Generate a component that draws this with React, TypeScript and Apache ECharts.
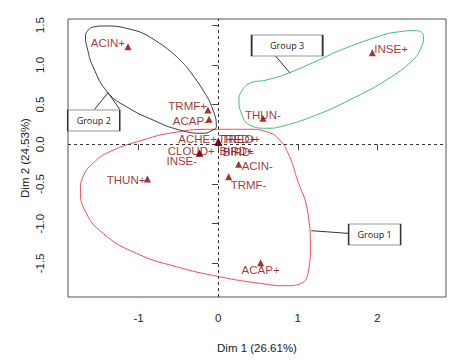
import React, { useEffect, useRef } from "react";
import * as echarts from "echarts";

// ---- data ----
const pointNames = ["ACIN+", "TRMF+", "ACAP-", "ACHE+", "TRED+", "TREO+", "CLOUD+", "INSE-", "BIRD+", "BIRD-", "ACIN-", "TRMF-", "THUN+", "ACAP+", "THUN-", "INSE+"];
const dim1 = [-1.132, -0.128, -0.115, -0.003, 0.0, 0.004, -0.232, -0.235, 0.005, 0.008, 0.257, 0.132, -0.888, 0.533, 0.562, 1.935];
const dim2 = [1.229, 0.432, 0.315, 0.033, 0.03, 0.028, -0.113, -0.11, 0.025, 0.022, -0.252, -0.408, -0.437, -1.491, 0.327, 1.154];

const xTicks = [-1, 0, 1, 2];
const yTicks = [-1.5, -1.0, -0.5, 0.0, 0.5, 1.0, 1.5];
const xTitle = "Dim 1 (26.61%)";
const yTitle = "Dim 2 (24.53%)";

const group1Hull = [[0.186, 0.189], [0.395, 0.189], [0.605, 0.159], [0.772, 0.054], [0.897, -0.156], [0.981, -0.408], [1.127, -0.869], [1.157, -1.289], [1.127, -1.625], [1.023, -1.759], [0.856, -1.781], [0.521, -1.751], [0.019, -1.668], [-0.524, -1.542], [-1.026, -1.373], [-1.445, -1.121], [-1.675, -0.828], [-1.729, -0.576], [-1.696, -0.408], [-1.571, -0.239], [-1.361, -0.093], [-0.944, 0.054], [-0.609, 0.139], [-0.107, 0.189], [0.186, 0.189]];
const group2Hull = [[-0.399, 0.977], [-0.191, 0.684], [-0.065, 0.432], [-0.023, 0.222], [-0.065, 0.18], [-0.191, 0.139], [-0.483, 0.18], [-0.818, 0.306], [-1.152, 0.474], [-1.383, 0.65], [-1.571, 0.977], [-1.645, 1.22], [-1.665, 1.35], [-1.63, 1.44], [-1.55, 1.48], [-1.42, 1.49], [-1.152, 1.461], [-0.734, 1.272], [-0.399, 0.977]];
const group3Hull = [[1.44, 1.146], [1.942, 1.335], [2.277, 1.418], [2.487, 1.431], [2.578, 1.355], [2.553, 1.229], [2.444, 1.062], [2.11, 0.81], [1.65, 0.558], [1.232, 0.369], [0.813, 0.23], [0.605, 0.202], [0.395, 0.243], [0.291, 0.39], [0.261, 0.558], [0.291, 0.662], [0.395, 0.768], [0.605, 0.81], [0.897, 0.902], [1.44, 1.146]];

const groupNames = ["Group 1", "Group 2", "Group 3"];
const groupBoxDim1 = [1.964, -1.562, 0.866];
const groupBoxDim2 = [-1.136, 0.3, 1.244];
const group1Leader = [[1.169, -1.088], [1.635, -1.122]];
const group2Leader = [[-1.55, 0.441], [-1.383, 0.65], [-1.236, 0.441]];
const group3Leader = [[0.721, 1.112], [0.897, 0.902]];

// ---- label placement (style) ----
const labelPlace: Record<string, [string, number, number]> = {
  "ACIN+": ["right", -3, -4],
  "TRMF+": ["right", -1, -4],
  "ACAP-": ["right", -1, 2],
  "ACHE+": ["right", -1, -3],
  "TRED+": ["left", 0, -3],
  "TREO+": ["left", 3, -3],
  "CLOUD+": ["right", 15, -2],
  "INSE-": ["left", -33, 8],
  "BIRD+": ["left", 1, 9],
  "BIRD-": ["left", 4, 9],
  "ACIN-": ["left", 3, 2],
  "TRMF-": ["left", 2, 8],
  "THUN+": ["right", -2, 1],
  "ACAP+": ["center", 0, 7],
  "THUN-": ["center", 0, -3],
  "INSE+": ["left", 2, -4],
};
const boxSizes: [number, number][] = [[52, 21], [52, 21], [71, 21]];

const FONT = "'Liberation Sans', Arial, sans-serif";
const RED_DARK = "#8b0000";

export default function App() {
  const ref = useRef<HTMLDivElement>(null);
  useEffect(() => {
    if (!ref.current) return;
    const chart = echarts.init(ref.current, undefined, { renderer: "svg" });
    const sym = 7;
    const pts = pointNames.map((n, i) => {
      const [align, dx, dy] = labelPlace[n];
      return {
        name: n,
        value: [dim1[i], dim2[i]],
        label: {
          show: true,
          formatter: n,
          position: [sym / 2 + dx, sym / 2 + dy],
          align,
          verticalAlign: "middle",
          color: RED_DARK,
          fontSize: 11.5,
          fontFamily: FONT,
        },
      };
    });
    const hull = (data: number[][], color: string) => ({
      type: "line",
      data,
      smooth: 0.5,
      symbol: "none",
      silent: true,
      lineStyle: { color, width: 1 },
      z: 3,
    });
    const leader = (data: number[][]) => ({
      type: "line",
      data,
      symbol: "none",
      silent: true,
      lineStyle: { color: "#333", width: 1 },
      z: 4,
    });
    const boxes = groupNames.map((g, i) => ({
      type: "scatter",
      data: [{ name: g, value: [groupBoxDim1[i], groupBoxDim2[i]] }],
      symbol: "rect",
      symbolSize: boxSizes[i],
      clip: false,
      silent: true,
      itemStyle: { color: "#fff", borderColor: "#333", borderWidth: 1, opacity: 1 },
      label: { show: true, position: "inside", formatter: g, color: "#222", fontSize: 9, fontFamily: "'Open Sans', sans-serif" },
      z: 5,
    }));
    chart.setOption({
      animation: false,
      backgroundColor: "#fff",
      grid: { left: 68, right: 28, top: 19, bottom: 67, show: true, borderColor: "#555", borderWidth: 1, containLabel: false },
      xAxis: {
        type: "value",
        min: -1.885,
        max: 2.86,
        splitLine: { show: false },
        axisLine: { show: false },
        axisTick: { show: true, length: 6, customValues: xTicks, lineStyle: { color: "#444" } },
        axisLabel: { customValues: xTicks, margin: 15, color: "#222", fontSize: 11.5, fontFamily: FONT, formatter: (v: number) => String(v) },
        name: xTitle,
        nameLocation: "middle",
        nameGap: 45,
        nameMoveOverlap: false,
        nameTextStyle: { color: "#222", fontSize: 11.5, fontFamily: FONT },
      },
      yAxis: {
        type: "value",
        min: -1.923,
        max: 1.578,
        splitLine: { show: false },
        axisLine: { show: false },
        axisTick: { show: true, length: 6, customValues: yTicks, lineStyle: { color: "#444" } },
        axisLabel: { customValues: yTicks, rotate: 90, margin: 22, color: "#222", fontSize: 11.5, fontFamily: FONT, formatter: (v: number) => v.toFixed(1) },
        name: yTitle,
        nameLocation: "middle",
        nameGap: 37,
        nameRotate: 90,
        nameMoveOverlap: false,
        nameTextStyle: { color: "#222", fontSize: 11.5, fontFamily: FONT },
      },
      series: [
        {
          type: "scatter",
          data: [],
          markLine: {
            silent: true,
            symbol: ["none", "none"],
            label: { show: false },
            lineStyle: { type: [3, 3], color: "#333", width: 1 },
            data: [{ xAxis: 0 }, { yAxis: 0 }],
          },
          z: 1,
        },
        hull(group1Hull, "#ef4b55"),
        hull(group2Hull, "#3a3a3a"),
        hull(group3Hull, "#3fbb80"),
        leader(group1Leader),
        leader(group2Leader),
        leader(group3Leader),
        ...boxes,
        {
          type: "scatter",
          data: pts,
          symbol: "triangle",
          symbolSize: sym,
          itemStyle: { color: RED_DARK },
          z: 6,
        },
      ],
    });
    return () => chart.dispose();
  }, []);
  return <div ref={ref} style={{ position: "fixed", left: 0, top: 0, width: 474, height: 364 }} />;
}
